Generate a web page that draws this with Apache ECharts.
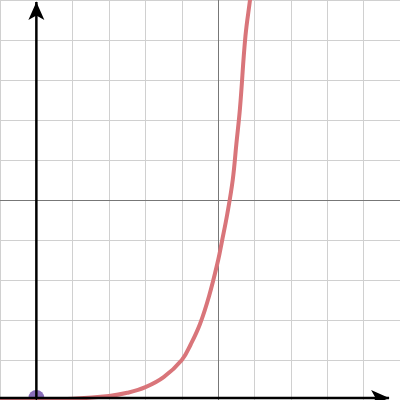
<!DOCTYPE html>
<html><head><meta charset="utf-8">
<script src="https://cdn.jsdelivr.net/npm/echarts@6/dist/echarts.min.js"></script>
<style>html,body{margin:0;padding:0;background:#fff}#c{width:400px;height:400px}</style>
</head><body><div id="c"></div>
<script>
var curveX = [-6, -5, -4, -3, -2.5, -2, -1.5, -1, -0.75, -0.5, -0.25, 0, 0.1, 0.25, 0.4, 0.5, 0.6, 0.75, 0.9, 1];
var curveY = [-5, -4.99, -4.97, -4.9, -4.82, -4.68, -4.43, -4.0, -3.6, -3.1, -2.4, -1.5, -1.05, -0.35, 0.5, 1.4, 2.3, 4.1, 5.2, 6.3];
var vArrow = [[-5, -4.95], [-5, 4.95]];
var hArrow = [[-6.2, -4.95], [4.7, -4.95]];
var pointXY = [[-5, -4.95]];

var chart = echarts.init(document.getElementById('c'));
var grayAxis = { show: true, onZero: true, lineStyle: { color: '#777', width: 1 } };
chart.setOption({
  animation: false,
  grid: { left: 0, right: 0, top: 0, bottom: 0 },
  xAxis: {
    type: 'value', min: -6, max: 5, interval: 1,
    axisLine: grayAxis, axisTick: { show: false }, axisLabel: { show: false },
    splitLine: { lineStyle: { color: '#d0d0d0' } }
  },
  yAxis: {
    type: 'value', min: -5, max: 5, interval: 1,
    axisLine: grayAxis, axisTick: { show: false }, axisLabel: { show: false },
    splitLine: { lineStyle: { color: '#d0d0d0' } }
  },
  series: [
    {
      type: 'line', data: curveX.map(function (x, i) { return [x, curveY[i]]; }),
      smooth: 0.4, showSymbol: false, clip: true,
      lineStyle: { color: '#d9757a', width: 4 }
    },
    {
      type: 'line', data: vArrow, showSymbol: true, symbol: 'arrow',
      symbolSize: [12, 18], symbolKeepAspect: true, clip: false,
      lineStyle: { color: '#000', width: 2.5 }, itemStyle: { color: '#000' }
    },
    {
      type: 'line', data: hArrow, showSymbol: true, symbol: 'arrow',
      symbolRotate: -90, symbolSize: [12, 18], clip: false,
      lineStyle: { color: '#000', width: 2.5 }, itemStyle: { color: '#000' }
    },
    {
      type: 'scatter', data: pointXY, symbolSize: 16, clip: false,
      itemStyle: { color: '#6b48a8' }
    }
  ]
});
</script></body></html>
